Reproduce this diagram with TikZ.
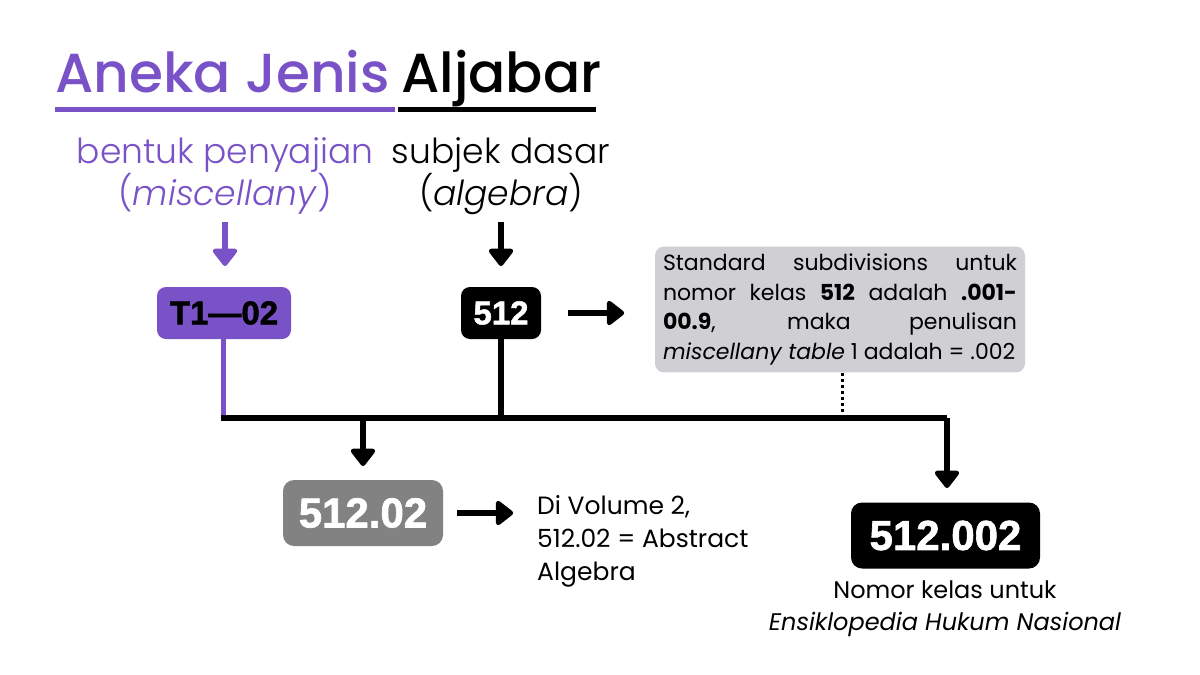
\documentclass[tikz,border=0pt]{standalone}
\usepackage{fontspec}
\setmainfont{Poppins}
\newfontfamily\titlefont{Poppins Medium}
\newfontfamily\lightfont{Poppins Light}
\newfontfamily\boxfont[BoldFeatures={FakeBold=1.5}]{Liberation Sans}
\usetikzlibrary{arrows.meta}
\definecolor{purp}{HTML}{7A52C7}
\definecolor{notegrey}{HTML}{D0D0D4}
\definecolor{midgrey}{HTML}{828282}
\tikzset{
  titletext/.style={anchor=base west, inner sep=0pt, font=\titlefont\fontsize{55}{55}\selectfont},
  subtext/.style={anchor=base, inner sep=0pt, font=\lightfont\fontsize{34.5}{40}\selectfont},
  numbox/.style={rounded corners=9pt, inner xsep=8pt, minimum height=52pt, font=\boxfont\bfseries\fontsize{33}{33}\selectfont},
  bignum/.style={rounded corners=11pt, inner xsep=12pt, minimum height=66pt, font=\boxfont\bfseries\fontsize{42}{42}\selectfont, text=white},
  arr/.style={line width=6pt, -{Triangle[length=19pt,width=28pt,round]}},
  conn/.style={line width=6pt},
  plain/.style={anchor=base west, inner sep=0pt, font=\fontsize{25}{33}\selectfont},
  captext/.style={anchor=base, inner sep=0pt, font=\fontsize{24}{32}\selectfont}
}
\begin{document}
\begin{tikzpicture}[x=1pt,y=-1pt]
\useasboundingbox (0,0) rectangle (1200,675);
\fill[white] (0,0) rectangle (1200,675);
% title
\node[titletext, text=purp] (t1) at (55,92) {Aneka Jenis};
\node[titletext] (t2) at (401,92) {Aljabar};
\draw[purp, line width=5pt] (55,109) -- (395,109);
\draw[black, line width=5pt] (398,109) -- (596,109);
% subtitles
\node[subtext, text=purp] (s1a) at (225,163) {bentuk penyajian};
\node[subtext, text=purp] (s1b) at (225,205) {(\textit{miscellany})};
\node[subtext] (s2a) at (501,163) {subjek dasar};
\node[subtext] (s2b) at (501,205) {(\textit{algebra})};
% boxes
\node[numbox, fill=purp, text=black, minimum width=134pt] (b1) at (224,313) {T1—02};
\node[numbox, fill=black, text=white, minimum width=80pt] (b2) at (501,313) {512};
\node[fill=notegrey, rounded corners=9pt, inner xsep=8pt, inner ysep=7.5pt, text width=354pt, align=justify,
      font=\fontsize{22}{29.5}\selectfont] (note) at (840,309.5)
  {Standard subdivisions untuk\linebreak nomor kelas \textbf{512} adalah \textbf{.001-}\linebreak \textbf{00.9}, maka penulisan\linebreak \textit{miscellany table} 1 adalah = .002};
\node[bignum, fill=midgrey, minimum width=160pt] (b3) at (363,513) {512.02};
\node[bignum, fill=black, minimum width=189pt] (b4) at (945.5,535.5) {512.002};
\node[plain] (vol1) at (537,514) {Di Volume 2,};
\node[plain] (vol2) at (537,547) {512.02 = Abstract};
\node[plain] (vol3) at (537,580) {Algebra};
\node[captext] (cap1) at (945,598) {Nomor kelas untuk};
\node[captext] (cap2) at (945,630) {\textit{Ensiklopedia Hukum Nasional}};
% junction coordinates
\coordinate (busL) at (221,418);
\coordinate (busR) at (947,418);
\coordinate (j1) at (363,418);
\coordinate (jd) at (842,418);
% arrows from subtitles
\draw[arr, purp] (225,222) -- (225,266);
\draw[arr] (501,222) -- (501,266);
\draw[arr] (b2.east) ++(27pt,0) -- ++(56pt,0);
% connectors
\draw[purp, line width=5pt] (223,339) -- (223,418);
\draw[conn] (b2.south) -- (b2.south |- busL);
\draw[conn] (busL) -- (busR);
\draw[arr] (j1) -- (363,466);
\draw[arr] (busR) -- (947,488);
\draw[line width=3pt, dash pattern=on 3pt off 3pt] (note.south -| jd) -- (jd);
\draw[arr] (b3.east) ++(14pt,0) -- ++(56pt,0);
\end{tikzpicture}
\end{document}
